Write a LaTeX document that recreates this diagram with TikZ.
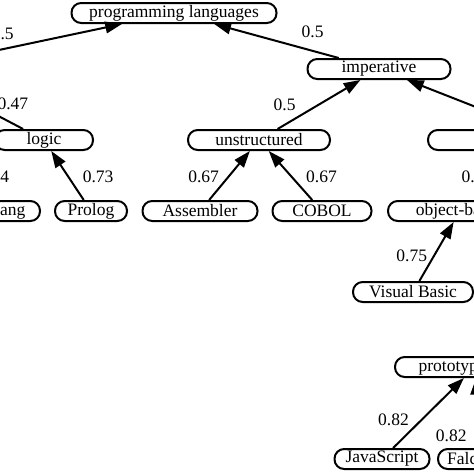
\documentclass[tikz,border=0pt]{standalone}
\usepackage{fontspec}
\setmainfont{Liberation Serif}
\usetikzlibrary{arrows.meta}

\begin{document}
\begin{tikzpicture}[x=0.6pt, y=-0.6pt, line width=1.2pt, >={Triangle[length=10pt, width=7pt]}]
    \tikzstyle{every node} = [font=\fontsize{10.5}{12}\selectfont]
    \tikzstyle{term} = [draw, rectangle, rounded corners=5.8pt, minimum height=12pt, inner sep=0pt]
    \tikzstyle{weight} = [inner sep=0pt]
    \useasboundingbox (0,0) rectangle (474,474);
    \fill [white] (0,0) rectangle (474,474);
    \clip (0,0) rectangle (474,474);
    % parents that lie outside the crop
    \coordinate (decl) at (-91, 69);
    \coordinate (func) at (-120, 140);
    \node (prog) [term, minimum width=123pt] at (174, 13) {programming languages};
    \node (imp) [term, minimum width=85.8pt] at (379, 69) {imperative};
    \node (logic) [term, minimum width=58.8pt] at (44, 140) {logic};
    \node (unstr) [term, minimum width=85.2pt] at (259, 140) {unstructured};
    \node (oo) [term, minimum width=158.4pt] at (560, 140) {};
    \node (erlang) [term, minimum width=45.6pt] at (2, 211) {Erlang};
    \node (prolog) [term, minimum width=43.2pt] at (91, 211) {Prolog};
    \node (asm) [term, minimum width=69pt] at (200, 211) {Assembler};
    \node (cobol) [term, minimum width=59.4pt] at (322, 211) {COBOL};
    \node (ob) [term, minimum width=86.4pt] at (460, 211) {object-based};
    \node (vb) [term, minimum width=72pt] at (413, 292) {Visual Basic};
    \node (pb) [term, minimum width=96pt] at (475, 367) {prototype-based};
    \node (js) [term, minimum width=57pt] at (382, 459) {JavaScript};
    \node (falcon) [term, minimum width=39.6pt] at (471, 459) {Falcon};
      \draw [->] (decl) -- (prog) node[weight, pos=.44, above=5pt] {0.5};
      \draw [->] (imp) -- (prog) node[weight, pos=.21, above=7pt] {0.5};
      \draw [->] (logic) -- (decl) node[weight, pos=.09, above=8pt] {0.47};
      \draw [->] (unstr) -- (imp) node[weight, pos=.49, left=13pt] {0.5};
      \draw [->] (oo) -- (imp);
      \draw [->] (erlang) -- (func) node[weight, pos=.39, right=20.8pt] {0.54};
      \draw [->] (prolog) -- (logic) node[weight, pos=.47, right=8pt] {0.73};
      \draw [->] (asm) -- (unstr) node[weight, pos=.47, left=5pt] {0.67};
      \draw [->] (cobol) -- (unstr) node[weight, pos=.47, right=8pt] {0.67};
      \draw [->] (ob) -- (oo) node[weight, pos=.47, left=14pt] {0.5};
      \draw [->] (vb) -- (ob) node[weight, pos=.42, left=3.4pt] {0.75};
      \draw [->] (js) -- (pb) node[weight, pos=.4, left=7pt] {0.82};
      \draw [->] (falcon.63) -- (pb.-84) node[weight, pos=.17, left=5.4pt] {0.82};
  \end{tikzpicture}
\end{document}
